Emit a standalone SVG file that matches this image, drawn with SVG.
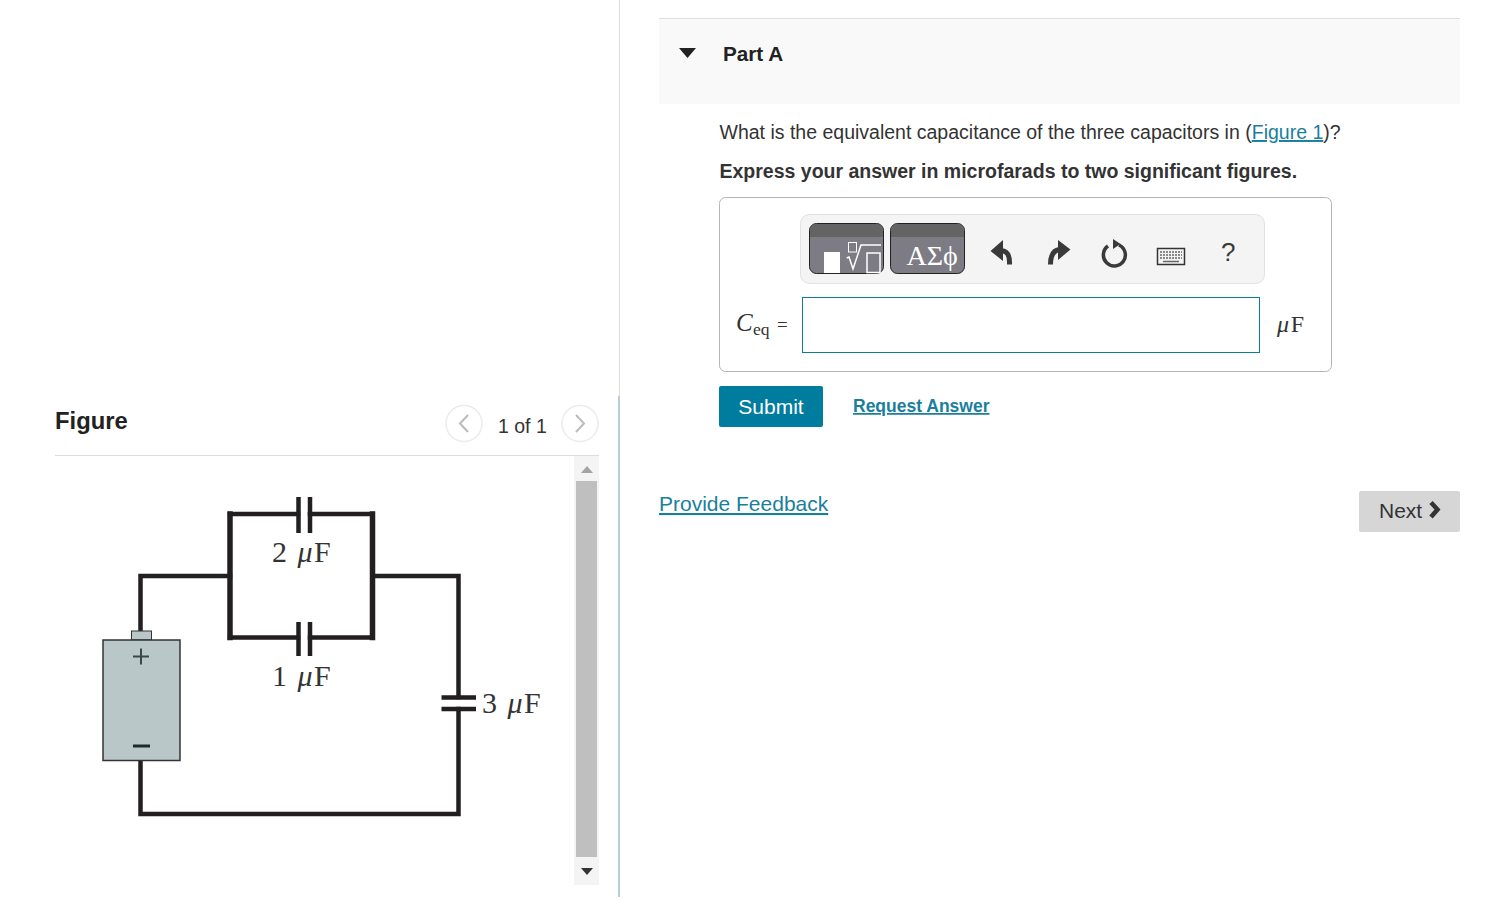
<svg xmlns="http://www.w3.org/2000/svg" width="1506" height="904" viewBox="0 0 1506 904">
<style>
.s{font-family:"Liberation Sans",Arial,sans-serif}
.r{font-family:"Liberation Serif","Times New Roman",serif}
.t{fill:#333}
.w{fill:none;stroke:#231f20;stroke-width:4.500;stroke-linecap:square}
.p{fill:none;stroke:#231f20;stroke-width:4.500}
.c{font-size:30px;fill:#333;letter-spacing:1.500px}
.l{fill:#1a7f9c}
.ic{fill:none;stroke:#3a3a3a;stroke-width:3.500}
</style>
<rect width="1506" height="904" fill="#fff"/>
<g id="dividers">
<line x1="619.500" y1="0" x2="619.500" y2="396" stroke="#dcdcdc" stroke-width="1"/>
<line x1="619" y1="396" x2="619" y2="897" stroke="#bccbdc" stroke-width="2"/>
</g>
<g id="part-a-header">
<rect x="659" y="18" width="801" height="86" fill="#f9f9f9"/>
<line x1="659" y1="18.500" x2="1460" y2="18.500" stroke="#dedede"/>
<polygon points="679,48 696,48 687.500,58" fill="#222"/>
<text class="s" x="723" y="61" font-size="20.700" font-weight="700" fill="#222">Part A</text>
</g>
<g id="question">
<text class="s t" x="719.500" y="139" font-size="19.500">What is the equivalent capacitance of the three capacitors in (<tspan class="l" text-decoration="underline">Figure 1</tspan>)?</text>
<text class="s t" x="719.500" y="178" font-size="19.500" font-weight="700">Express your answer in microfarads to two significant figures.</text>
</g>
<g id="answer-box">
<rect x="719.500" y="197.500" width="612" height="174" rx="6" fill="#fff" stroke="#b5b5b5"/>
</g>
<g id="toolbar">
<rect x="800.500" y="214.500" width="464" height="69" rx="9" fill="#f4f4f4" stroke="#e2e2e2"/>
<g id="btn-templates">
<rect x="809.500" y="223.500" width="74" height="50" rx="7" fill="#7d7c84" stroke="#222"/>
<path d="M810 237V230.500a6.500 6.500 0 0 1 6.500-6.500h60a6.500 6.500 0 0 1 6.500 6.500V237z" fill="#646464"/>
<rect x="824" y="252" width="16" height="21" fill="#fff"/>
<rect x="848.500" y="242.500" width="8" height="9.500" fill="none" stroke="#fff" stroke-width="1"/>
<path d="M846.700 258l2.300-1 4 12 8-24h20" fill="none" stroke="#fff" stroke-width="1.500"/>
<rect x="867" y="253" width="13" height="19.500" fill="none" stroke="#fff" stroke-width="1.500"/>
</g>
<g id="btn-symbols">
<rect x="890.500" y="223.500" width="74" height="50" rx="7" fill="#7d7c84" stroke="#222"/>
<path d="M891 237V230.500a6.500 6.500 0 0 1 6.500-6.500h60a6.500 6.500 0 0 1 6.500 6.500V237z" fill="#646464"/>
<text class="r" x="906.500" y="265" font-size="28" fill="#fff">ΑΣϕ</text>
</g>
<g id="icon-undo">
<polygon points="990.500,251 1003,240 1003,261" fill="#3a3a3a"/>
<path d="M1001 250.500c6 .5 9 4 8.500 14" fill="none" stroke="#3a3a3a" stroke-width="5"/>
</g>
<g id="icon-redo">
<polygon points="1070.500,249.500 1058,240 1058,260" fill="#3a3a3a"/>
<path d="M1060 249.500c-6 .5-9.500 5-9.500 15" fill="none" stroke="#3a3a3a" stroke-width="5"/>
</g>
<g id="icon-reset">
<path d="M1108 246a11 11 0 1 0 11-1" class="ic"/>
<polygon points="1113,239 1120.500,244 1113,249" fill="#3a3a3a"/>
</g>
<g id="icon-keyboard">
<rect x="1157.500" y="248.500" width="27" height="16" fill="#f4f4f4" stroke="#333" stroke-width="1.500"/>
<path d="M1160 252h22M1160 255h22M1160 258h22" stroke="#666" stroke-width="1.500" stroke-dasharray="2 1"/>
<line x1="1163" y1="261.500" x2="1179" y2="261.500" stroke="#666" stroke-width="1.500"/>
</g>
<text class="s" x="1221" y="261" font-size="26" fill="#3a3a3a">?</text>
</g>
<g id="equation">
<text class="r" x="736" y="331" font-size="25" font-style="italic" fill="#333">C</text>
<text class="r" x="753" y="335" font-size="17.500" fill="#333">eq</text>
<text class="r" x="777" y="331" font-size="19" fill="#333">=</text>
<rect x="802.500" y="297.500" width="457" height="55" fill="#fff" stroke="#0a7d93"/>
<text class="r" x="1277" y="332" font-size="24" letter-spacing="1.800" fill="#333"><tspan font-style="italic">μ</tspan>F</text>
</g>
<g id="submit">
<rect x="719" y="386" width="104" height="41" rx="2" fill="#007c9f"/>
<text class="s" x="771" y="414" font-size="21" fill="#fff" text-anchor="middle">Submit</text>
</g>
<g id="request-answer">
<text class="s l" x="853" y="412" font-size="17.500" font-weight="700" text-decoration="underline">Request Answer</text>
</g>
<g id="feedback">
<text class="s l" x="659" y="511" font-size="21" text-decoration="underline">Provide Feedback</text>
</g>
<g id="next">
<rect x="1359" y="491" width="101" height="41" rx="2" fill="#d6d6d6"/>
<text class="s t" x="1379" y="518" font-size="21">Next</text>
<path d="M1431 502.500l6.500 7-6.500 7.500" fill="none" stroke="#333" stroke-width="4.500"/>
</g>
<g id="figure-header">
<text class="s" x="55" y="429" font-size="23.800" font-weight="700" fill="#222">Figure</text>
<circle cx="464" cy="423.500" r="18" fill="#fff" stroke="#ececec" stroke-width="1.500"/>
<path d="M468 415l-8 8.500 8 8.500" fill="none" stroke="#bbb" stroke-width="2"/>
<text class="s t" x="498" y="432.500" font-size="19.500">1 of 1</text>
<circle cx="580" cy="423.500" r="18" fill="#fff" stroke="#ececec" stroke-width="1.500"/>
<path d="M576 415l8 8.500-8 8.500" fill="none" stroke="#bbb" stroke-width="2"/>
<line x1="55" y1="455.500" x2="599" y2="455.500" stroke="#dedede"/>
</g>
<g id="scrollbar">
<rect x="574" y="456" width="25" height="429" fill="#f4f4f4"/>
<rect x="576" y="481" width="21" height="376" fill="#bfbfbf"/>
<polygon points="581,473 593,473 587,466" fill="#a3a3a3"/>
<polygon points="581,868 593,868 587,875" fill="#333"/>
</g>
<g id="connectors">
<path class="w" d="M140.500 631V576H230"/>
<path class="w" d="M230 514H298M310 514H372.500"/>
<path class="w" d="M230 637.500H298M310 637.500H372.500"/>
<path class="w" d="M230 514V637.500" style="stroke-width:5.500"/>
<path class="w" d="M372.500 514V637.500" style="stroke-width:5.500"/>
<path class="w" d="M372.500 576H458.500V697M458.500 709V814H140.500V760"/>
</g>
<g id="battery">
<rect x="131.500" y="631" width="20" height="9" fill="#b9c7c8" stroke="#333"/>
<rect x="103" y="640" width="77" height="120.500" fill="#b9c7c8" stroke="#333" stroke-width="1.500"/>
<path d="M141 648.500v16M133 656.500h16" stroke="#3c4748" stroke-width="2" fill="none"/>
<path d="M133 746h17" stroke="#1f2a2b" stroke-width="3" fill="none"/>
</g>
<g id="cap-2uf">
<path class="p" d="M298.500 497V533M310 497V533"/>
<text class="r c" x="272" y="562">2 <tspan font-style="italic">μ</tspan>F</text>
</g>
<g id="cap-1uf">
<path class="p" d="M298.500 622V656M310 622V656"/>
<text class="r c" x="272" y="686">1 <tspan font-style="italic">μ</tspan>F</text>
</g>
<g id="cap-3uf">
<path class="p" d="M441.500 697.500H476M441.500 709H476"/>
<text class="r c" x="482" y="713">3 <tspan font-style="italic">μ</tspan>F</text>
</g>
</svg>
